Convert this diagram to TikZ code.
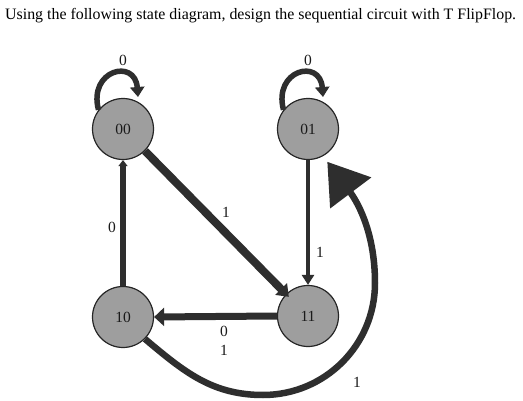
\documentclass[tikz,border=0pt]{standalone}
\usepackage{fontspec}
\setmainfont{Liberation Serif}
\usetikzlibrary{arrows.meta}
\definecolor{arrowc}{HTML}{2E2E2E}
\definecolor{nodefill}{HTML}{9E9E9E}
\definecolor{nodeline}{HTML}{262626}
\definecolor{textc}{HTML}{1A1A1A}
\begin{document}
\begin{tikzpicture}[x=1pt,y=1pt,
  state/.style={circle,draw=nodeline,line width=1.2pt,fill=nodefill,minimum size=61pt,inner sep=0pt,
    font=\fontsize{15.5}{17}\selectfont,text=textc},
  lbl/.style={font=\fontsize{15.5}{17}\selectfont,text=textc,inner sep=0pt},
  conn/.style={draw=arrowc,line cap=butt}
]
\useasboundingbox (0,0) rectangle (523,400);
\fill[white] (0,0) rectangle (523,400);
\node[anchor=base west,inner sep=0pt,font=\fontsize{15.9}{18}\selectfont] (title) at (5,380)
  {Using the following state diagram, design the sequential circuit with T FlipFlop.};

\node[state] (n00) at (123,271) {00};
\node[state] (n01) at (308,271) {01};
\node[state] (n10) at (123,83) {10};
\node[state] (n11) at (308,84) {11};

% self loops
\draw[conn,line width=5.5pt,-{Triangle[length=10pt,width=14pt]}]
  (n00.142) .. controls (88,330) and (135,342) .. ([xshift=15pt,yshift=32pt]n00.center);
\draw[conn,line width=5.5pt,-{Triangle[length=10pt,width=14pt]}]
  (n01.142) .. controls (273,330) and (320,342) .. ([xshift=15pt,yshift=32pt]n01.center);

% 00 -> 11
\draw[conn,line width=8pt,-{Triangle[length=11pt,width=16pt]},shorten >=-4pt] (n00.-45) -- (n11.135);
% 10 -> 00
\draw[conn,line width=6pt,-{Triangle[length=6pt,width=9pt]}] (n10.north) -- (n00.south);
% 01 -> 11
\draw[conn,line width=4.5pt,-{Triangle[length=10pt,width=12pt]}] (n01.south) -- (n11.north);
% 11 -> 10
\draw[conn,line width=7pt,-{Triangle[length=10pt,width=18pt]}] (n11.west) -- (n10.east);
% 10 -> 01 big curve
\coordinate (cb) at (263,5);
\coordinate (cr) at (375,117);
\draw[conn,line width=6.5pt,-{Triangle[length=39pt,width=50pt]},shorten >=7pt]
  (n10.-45) to[out=-40,in=180] (cb) to[out=0,in=-90] (cr) to[out=90,in=-53] (n01.-61);

% labels
\node[lbl] (l00) at (123,340) {0};
\node[lbl] (l01) at (308,340) {0};
\node[lbl] (ld) at (226,188) {1};
\node[lbl] (lv) at (112,173) {0};
\node[lbl] (lv2) at (320,148) {1};
\node[lbl] (lh0) at (224,69) {0};
\node[lbl] (lh1) at (224,50) {1};
\node[lbl] (lc) at (357,18) {1};
\end{tikzpicture}
\end{document}
